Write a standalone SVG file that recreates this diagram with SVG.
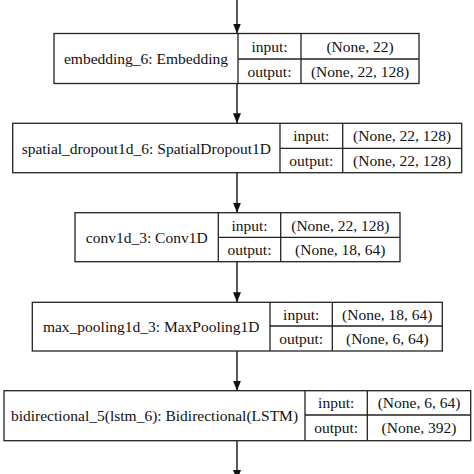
<svg xmlns="http://www.w3.org/2000/svg" width="474" height="474" viewBox="0 0 474 474">
<defs>
<marker id="ah" markerWidth="10" markerHeight="10" refX="10" refY="5" orient="auto" markerUnits="userSpaceOnUse">
<path d="M0,1 L10,5 L0,9 Z" fill="#111"/>
</marker>
<style>
.b{fill:#fff;stroke:#222;stroke-width:1.3}
.l{stroke:#222;stroke-width:1.3;fill:none}
.c{stroke:#222;stroke-width:1.5;fill:none;marker-end:url(#ah)}
text{font-family:"Liberation Serif","Times New Roman",serif;font-size:15.5px;fill:#111;text-anchor:middle}
</style>
</defs>
<rect width="474" height="474" fill="#fff"/>
<g id="connectors">
<line class="c" x1="237" y1="0" x2="237" y2="33.5"/>
<line class="c" x1="237" y1="83.5" x2="237" y2="123.3"/>
<line class="c" x1="237" y1="172.7" x2="237" y2="212.7"/>
<line class="c" x1="237" y1="261.7" x2="237" y2="302.3"/>
<line class="c" x1="237" y1="351" x2="237" y2="390.7"/>
<line class="c" x1="237" y1="440.7" x2="237" y2="480"/>
</g>
<g id="embedding_6">
<rect class="b" x="54" y="33.5" width="365" height="50"/>
<line class="l" x1="238" y1="33.5" x2="238" y2="83.5"/>
<line class="l" x1="301" y1="33.5" x2="301" y2="83.5"/>
<line class="l" x1="238" y1="59" x2="419" y2="59"/>
<text x="146" y="64">embedding_6: Embedding</text>
<text x="269.5" y="51.5">input:</text>
<text x="269.5" y="76.5">output:</text>
<text x="360" y="51.5">(None, 22)</text>
<text x="360" y="76.5">(None, 22, 128)</text>
</g>
<g id="spatial_dropout1d_6">
<rect class="b" x="12.7" y="123.3" width="449" height="49.4"/>
<line class="l" x1="280" y1="123.3" x2="280" y2="172.7"/>
<line class="l" x1="342.7" y1="123.3" x2="342.7" y2="172.7"/>
<line class="l" x1="280" y1="148.3" x2="461.7" y2="148.3"/>
<text x="146.3" y="153.5">spatial_dropout1d_6: SpatialDropout1D</text>
<text x="311.3" y="141.3">input:</text>
<text x="311.3" y="166">output:</text>
<text x="402.2" y="141.3">(None, 22, 128)</text>
<text x="402.2" y="166">(None, 22, 128)</text>
</g>
<g id="conv1d_3">
<rect class="b" x="75" y="212.7" width="325" height="49"/>
<line class="l" x1="218.3" y1="212.7" x2="218.3" y2="261.7"/>
<line class="l" x1="280.7" y1="212.7" x2="280.7" y2="261.7"/>
<line class="l" x1="218.3" y1="237.3" x2="400" y2="237.3"/>
<text x="146.7" y="242.7">conv1d_3: Conv1D</text>
<text x="249.5" y="230.5">input:</text>
<text x="249.5" y="255">output:</text>
<text x="340.3" y="230.5">(None, 22, 128)</text>
<text x="340.3" y="255">(None, 18, 64)</text>
</g>
<g id="max_pooling1d_3">
<rect class="b" x="32.3" y="302.3" width="410" height="48.7"/>
<line class="l" x1="270" y1="302.3" x2="270" y2="351"/>
<line class="l" x1="332.3" y1="302.3" x2="332.3" y2="351"/>
<line class="l" x1="270" y1="326" x2="442.3" y2="326"/>
<text x="151.2" y="332">max_pooling1d_3: MaxPooling1D</text>
<text x="301.2" y="319.5">input:</text>
<text x="301.2" y="344">output:</text>
<text x="387.3" y="319.5">(None, 18, 64)</text>
<text x="387.3" y="344">(None, 6, 64)</text>
</g>
<g id="bidirectional_5">
<rect class="b" x="4" y="390.7" width="466.7" height="50"/>
<line class="l" x1="305" y1="390.7" x2="305" y2="440.7"/>
<line class="l" x1="367.3" y1="390.7" x2="367.3" y2="440.7"/>
<line class="l" x1="305" y1="415" x2="470.7" y2="415"/>
<text x="154.5" y="421">bidirectional_5(lstm_6): Bidirectional(LSTM)</text>
<text x="336.2" y="408.3">input:</text>
<text x="336.2" y="433.3">output:</text>
<text x="419" y="408.3">(None, 6, 64)</text>
<text x="419" y="433.3">(None, 392)</text>
</g>
</svg>
